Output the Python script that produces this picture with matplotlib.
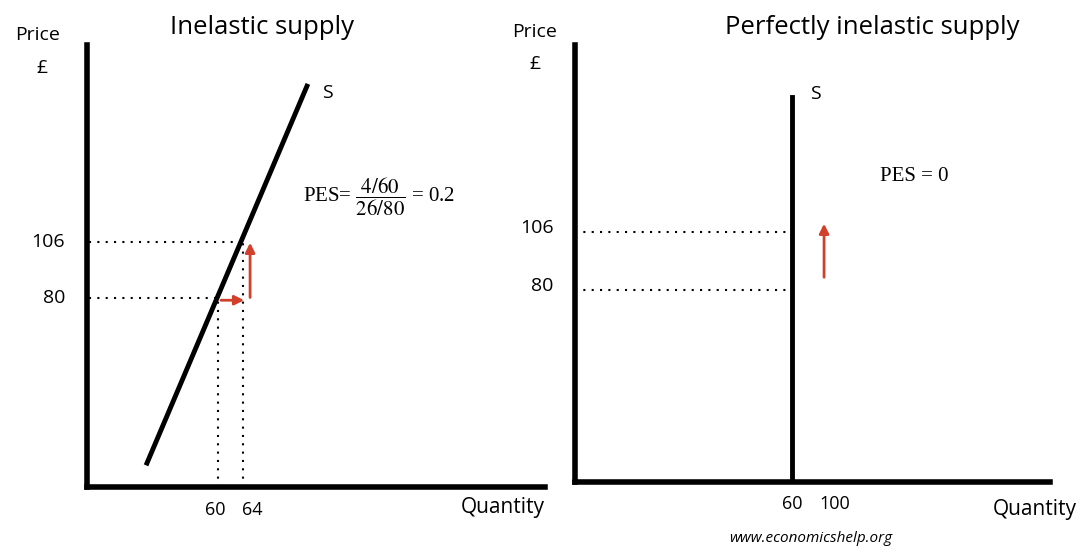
import matplotlib
matplotlib.use("Agg")
import matplotlib.pyplot as plt

plt.rcParams['font.family'] = ['Open Sans', 'DejaVu Sans']
plt.rcParams['mathtext.fontset'] = 'stix'

# Left panel data
price_ticks = [80, 106]
qty_ticks_left = [60, 64]
supply_q = [48.6, 74.2]
supply_p = [3.4, 178.4]
# Right panel data
qty_ticks_right = [60, 100]
vert_q = 60
vert_p_top = 166.5

W, H = 1089, 550
fig = plt.figure(figsize=(W/100, H/100), dpi=100)

def frac(x0, y0, x1, y1):
    return [x0/W, 1-y1/H, (x1-x0)/W, (y1-y0)/H]

axL = fig.add_axes(frac(87, 45, 545, 487))
axL.set_xlim(39, 112.3); axL.set_ylim(-7.7, 197.5)
axR = fig.add_axes(frac(575, 45, 1050, 482))
axR.set_xlim(-141.9, 300); axR.set_ylim(-6.1, 189.9)
for ax in (axL, axR):
    for s in ('top', 'right'):
        ax.spines[s].set_visible(False)
    for s in ('left', 'bottom'):
        ax.spines[s].set_linewidth(4)
    ax.set_xticks([]); ax.set_yticks([])
    ax.patch.set_alpha(0)

red = '#d0402a'
dot = dict(color='black', lw=1.5, ls=(0, (1, 3)))
# Left
axL.plot(supply_q, supply_p, color='black', lw=3.5)
for p, q in zip(price_ticks, qty_ticks_left):
    axL.plot([39.3, q], [p, p], **dot)
    axL.plot([q, q], [-7.7, p], **dot)
    axL.text(35.5, p, str(p), ha='right', va='center', fontsize=14, clip_on=False)
axL.text(59.5, -14, '60', ha='center', va='top', fontsize=13, clip_on=False)
axL.text(65.5, -14, '64', ha='center', va='top', fontsize=13, clip_on=False)
axL.annotate('', xy=(64.6, 79), xytext=(60, 79),
             arrowprops=dict(arrowstyle='-|>', color=red, lw=2, mutation_scale=14))
axL.annotate('', xy=(65.1, 107), xytext=(65.1, 79),
             arrowprops=dict(arrowstyle='-|>', color=red, lw=2, mutation_scale=14))
axL.text(76.6, 175, 'S', fontsize=14, va='center')
axL.text(73.6, 127, r'PES= $\dfrac{4/60}{26/80}$ = 0.2', fontsize=15, va='center',
         family='Liberation Serif')
# Right
axR.plot([vert_q, vert_q], [-6.1, vert_p_top], color='black', lw=3.5)
for p in price_ticks:
    axR.plot([-141.5, vert_q], [p, p], **dot)
    axR.text(-162, p + 2, str(p), ha='right', va='center', fontsize=14, clip_on=False)
for q in qty_ticks_right:
    axR.text(q, -12, str(q), ha='center', va='top', fontsize=13, clip_on=False)
axR.annotate('', xy=(89.8, 111), xytext=(89.8, 84.5),
             arrowprops=dict(arrowstyle='-|>', color=red, lw=2, mutation_scale=14))
axR.text(77, 168, 'S', fontsize=14, va='center')
axR.text(142, 131, 'PES = 0', fontsize=15, va='center', family='Liberation Serif')

# Figure texts
fig.text(38/W, 1-35/H, 'Price', ha='center', va='center', fontsize=14)
fig.text(42/W, 1-68/H, '£', ha='center', va='center', fontsize=14)
fig.text(535/W, 1-32/H, 'Price', ha='center', va='center', fontsize=14)
fig.text(535/W, 1-64/H, '£', ha='center', va='center', fontsize=14)
fig.text(262/W, 1-27/H, 'Inelastic supply', ha='center', va='center', fontsize=18.5)
fig.text(872/W, 1-28/H, 'Perfectly inelastic supply', ha='center', va='center', fontsize=18.5)
fig.text(503/W, 1-507/H, 'Quantity', ha='center', va='center', fontsize=15)
fig.text(1035/W, 1-510/H, 'Quantity', ha='center', va='center', fontsize=15)
fig.text(811/W, 1-538/H, 'www.economicshelp.org', ha='center', va='center',
         fontsize=11, style='italic')

fig.savefig('out.png', dpi=100)
